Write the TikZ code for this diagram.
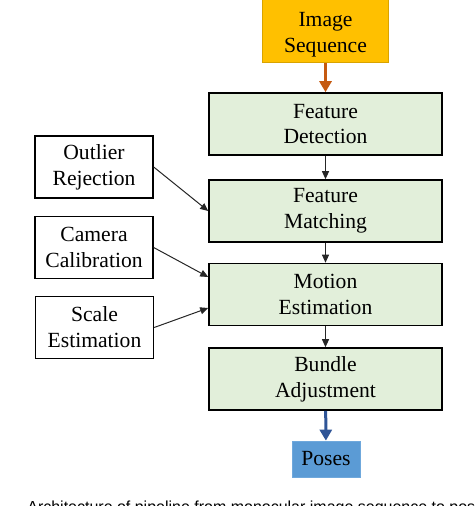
\documentclass[tikz,border=0pt]{standalone}
\usepackage{fontspec}
\setmainfont{Liberation Serif}
\newfontfamily\capfont{Liberation Sans}
\usetikzlibrary{arrows.meta}

\definecolor{seqfill}{HTML}{FFC000}
\definecolor{seqline}{HTML}{D9A300}
\definecolor{stepfill}{HTML}{E2EFDA}
\definecolor{posefill}{HTML}{5B9BD5}
\definecolor{poseline}{HTML}{6FA8DC}
\definecolor{inarrow}{HTML}{C55A11}
\definecolor{outarrow}{HTML}{2F5597}
\definecolor{linkgrey}{HTML}{262626}

\tikzset{
  stagebox/.style={draw=black, line width=0.032cm, fill=stepfill, align=center,
    minimum width=4.66cm, minimum height=1.24cm, inner sep=0pt},
  inputbox/.style={draw=black, line width=0.028cm, fill=white, align=center,
    minimum width=2.36cm, minimum height=1.24cm, inner sep=0pt},
  link/.style={draw=linkgrey, line width=0.02cm,
    -{Triangle[length=0.16cm, width=0.14cm]}},
  fatlink/.style={line width=0.06cm, -{Triangle[length=0.22cm, width=0.24cm]}}
}

\begin{document}
\begin{tikzpicture}[x=0.02cm, y=-0.02cm, font=\fontsize{12.3}{14.7}\selectfont]
                    \useasboundingbox (0,0) rectangle (474,506);
                    \clip (0,0) rectangle (474,506);

                    % Input box: image sequence
                    \node (seq) [draw=seqline, line width=0.02cm, fill=seqfill, inner sep=0pt,
                      minimum width=2.54cm, minimum height=1.36cm,
                      label={[align=center, yshift=-3.4pt]center:Image\\Sequence}] at (325.5,29) {};

                    % Main stages
                    \node (detect) [stagebox] at (325.5,124) {Feature\\Detection};
                    \node (match) [stagebox] at (325.5,211) {Feature\\Matching};
                    \node (motion) [stagebox] at (325.5,294.5) {Motion\\Estimation};
                    \node (bundle) [stagebox] at (325.5,379) {Bundle\\Adjustment};

                    % Output box: poses
                    \node (poses) [draw=poseline, line width=0.014cm, fill=posefill, inner sep=0pt,
                      minimum width=1.36cm, minimum height=0.72cm] at (326,459) {Poses};

                    % Side inputs
                    \node (outlier) [inputbox] at (94,167) {Outlier\\Rejection};
                    \node (calib) [inputbox] at (94,247.5) {Camera\\Calibration};
                    \node (scale) [inputbox] at (94.5,327.5) {Scale\\Estimation};

                    % Drawing the main chain
                    \draw [fatlink, inarrow] (seq) -- (detect);
                    \draw [link] (detect) -- (match);
                    \draw [link] (match) -- (motion);
                    \draw [link] (motion) -- (bundle);
                    \draw [fatlink, outarrow] (bundle) -- (poses);

                    % Drawing the side links
                    \draw [link] (outlier.east) -- (match.west);
                    \draw [link] (calib.east) -- ([yshift=0.35cm]motion.west);
                    \draw [link] (scale.east) -- ([yshift=-0.27cm]motion.west);

                    % Caption, cut by the lower edge
                    \node (caption) [anchor=base west, inner sep=0pt,
                      font=\capfont\fontsize{9.1}{11}\selectfont] at (27,512)
                      {Architecture of pipeline from monocular image sequence to poses};
                    \end{tikzpicture}
\end{document}
